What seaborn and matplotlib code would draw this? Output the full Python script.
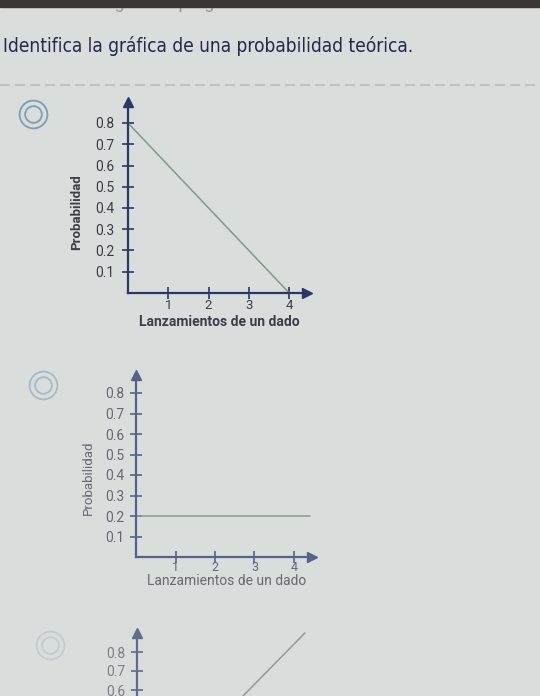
import matplotlib
matplotlib.use("Agg")
import matplotlib.pyplot as plt
import seaborn as sns
from matplotlib import font_manager

# ---------------- data ----------------
title_text = "Identifica la gráfica de una probabilidad teórica."
header_text = "Contesta la siguiente pregunta."
x_label = "Lanzamientos de un dado"
y_label = "Probabilidad"
x_ticks = [1, 2, 3, 4]
x_ticklabels = ["1", "2", "3", "4"]
y_ticks = [0.1, 0.2, 0.3, 0.4, 0.5, 0.6, 0.7, 0.8]
y_ticklabels = ["0.1", "0.2", "0.3", "0.4", "0.5", "0.6", "0.7", "0.8"]

# option 1: decreasing line
opt1_x = [0, 4]
opt1_y = [0.8, 0.0]
# option 2: constant line
opt2_x = [0, 4.4]
opt2_y = [0.2, 0.2]
# option 3: increasing line (only its top is visible)
opt3_x = [0, 4.25]
opt3_y = [0.0, 0.9]

W, H = 540, 696
BG = "#d9dddc"

sns.set_theme(style="white")
plt.rcParams["font.family"] = ["Roboto", "DejaVu Sans"]

fig = plt.figure(figsize=(W / 100, H / 100), dpi=100)
fig.patch.set_facecolor(BG)


def fx(px):
    return px / W


def fy(py):
    return 1 - py / H


# header band with a cut-off line of text
fig.text(fx(5), fy(3), header_text, fontsize=13, color="#9a9a9a", va="center",
         ha="left", zorder=4)
fig.add_artist(plt.Rectangle((0, fy(7)), 1, 7 / H, transform=fig.transFigure,
                             color="#3b3536", zorder=5))

# title: choose a narrow face if one is installed, then fit its width
entries = font_manager.fontManager.ttflist
title_kw = dict(family=["Roboto", "DejaVu Sans"])
if any(e.name == "Liberation Sans Narrow" for e in entries):
    title_kw = dict(family=["Liberation Sans Narrow", "Roboto"])
elif any(e.name == "DejaVu Sans" and e.stretch in ("condensed", "semi-condensed", 300, 400)
         for e in entries):
    title_kw = dict(family=["DejaVu Sans"], fontstretch="condensed")
title = fig.text(fx(3), fy(46), title_text, fontsize=15, color="#222a4a",
                 va="center", ha="left", **title_kw)
fig.canvas.draw()
bb = title.get_window_extent()
title.set_fontsize(15 * 414.0 / bb.width)

# dashed separator
fig.add_artist(plt.Line2D([0, 1], [fy(85), fy(85)], transform=fig.transFigure,
                          color="#b7bec3", lw=1.2, ls=(0, (6, 3))))


def draw_option(ox, oy, ux, uy, xmax, ymax, line_x, line_y, axis_color,
                text_color, line_color, radio_xy, radio_color, label_w,
                xlab_xy, ylab_xy, ypad, xpad, tsize, show_x=True,
                ylabels=None, show_ylab=True):
    ax = fig.add_axes([fx(ox), fy(oy), xmax * ux / W, ymax * uy / H])
    ax.set_facecolor("none")
    sns.lineplot(x=line_x, y=line_y, ax=ax, color=line_color, lw=1.1,
                 clip_on=False)
    ax.set_xlim(0, xmax)
    ax.set_ylim(0, ymax)
    for s in ["top", "right"]:
        ax.spines[s].set_visible(False)
    for s in ["left", "bottom"]:
        ax.spines[s].set_color(axis_color)
        ax.spines[s].set_linewidth(1.6)
    ax.set_xticks(x_ticks)
    ax.set_xticklabels(x_ticklabels if show_x else ["" for _ in x_ticks])
    ax.set_yticks(y_ticks)
    ax.set_yticklabels(ylabels if ylabels is not None else y_ticklabels)
    ax.tick_params(axis="both", direction="inout", length=8, width=1.2,
                   color=axis_color, labelcolor=text_color, labelsize=10,
                   bottom=True, left=True)
    ax.tick_params(axis="y", pad=ypad)
    ax.tick_params(axis="x", pad=xpad, labelsize=tsize)
    ax.plot(1, 0, ">", color=axis_color, ms=6.5, transform=ax.transAxes,
            clip_on=False)
    ax.plot(0, 1, "^", color=axis_color, ms=6.5, transform=ax.transAxes,
            clip_on=False)
    axw = xmax * ux
    axh = ymax * uy
    if show_x:
        ax.set_xlabel(x_label, fontsize=10, color=text_color,
                      fontweight=label_w, va="center", ha="center")
        ax.xaxis.set_label_coords((xlab_xy[0] - ox) / axw,
                                  (oy - xlab_xy[1]) / axh)
    if show_ylab:
        ax.set_ylabel(y_label, fontsize=9.5, color=text_color,
                      fontweight=label_w, va="center", ha="center")
        ax.yaxis.set_label_coords((ylab_xy[0] - ox) / axw,
                                  (oy - ylab_xy[1]) / axh)
    # radio button
    for ms in (20, 12):
        fig.lines.append(plt.Line2D([fx(radio_xy[0])], [fy(radio_xy[1])],
                                    transform=fig.transFigure, marker="o",
                                    ms=ms, mfc="none", mec=radio_color,
                                    mew=1.3))
    return ax


draw_option(128, 293, 40.3, 212.5, 4.45, 0.9, opt1_x, opt1_y,
            "#2b3766", "#3a3e48", "#7f9c86", (33, 114), "#7e9eb2", "bold",
            (219, 322), (77, 212), ypad=6, xpad=0.5, tsize=9.5)
draw_option(136, 557, 39.5, 205, 4.45, 0.89, opt2_x, opt2_y,
            "#55638a", "#666a72", "#8e9c8e", (43, 385), "#a6bac5", "normal",
            (227, 581), (88, 478), ypad=4.5, xpad=-1, tsize=9)
draw_option(137, 804, 39.5, 190, 4.45, 0.9, opt3_x, opt3_y,
            "#5f6c8e", "#7c8086", "#8f9b92", (50, 645), "#c2ccd0", "normal",
            (227, 830), (89, 730), ypad=4.5, xpad=0, tsize=9, show_x=False,
            ylabels=["", "", "", "", "", "0.6", "0.7", "0.8"], show_ylab=False)

fig.savefig("out.png", dpi=100, facecolor=BG)
